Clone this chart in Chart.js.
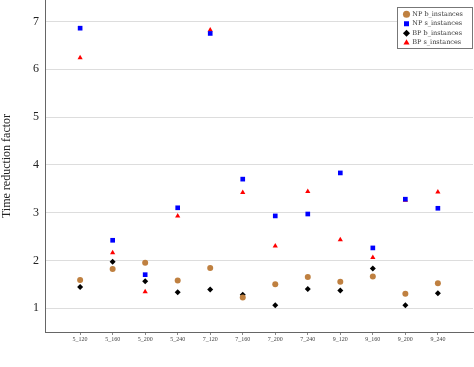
<!DOCTYPE html>
<html>
<head>
<meta charset="utf-8">
<script src="https://cdn.jsdelivr.net/npm/chart.js@4.4.0/dist/chart.umd.min.js"></script>
<style>
  html, body { margin: 0; padding: 0; background: #fff; }
  #wrap { width: 474px; height: 367px; }
</style>
</head>
<body>
<div id="wrap"><canvas id="c" width="474" height="367"></canvas></div>
<script>
const categories = ['5_120','5_160','5_200','5_240','7_120','7_160','7_200','7_240','9_120','9_160','9_200','9_240'];
const npB = [1.59, 1.82, 1.95, 1.58, 1.84, 1.22, 1.50, 1.65, 1.55, 1.66, 1.30, 1.52];
const npS = [6.86, 2.42, 1.70, 3.10, 6.75, 3.70, 2.93, 2.97, 3.83, 2.26, 3.28, 3.09];
const bpB = [1.44, 1.97, 1.56, 1.33, 1.39, 1.28, 1.06, 1.40, 1.37, 1.83, 1.06, 1.31];
const bpS = [6.24, 2.16, 1.34, 2.93, 6.82, 3.42, 2.30, 3.44, 2.43, 2.06, 3.26, 3.43];
const yTicks = [1, 2, 3, 4, 5, 6, 7];

const toPts = arr => arr.map((v, i) => ({x: i, y: v}));
const serif = '"Liberation Serif", "DejaVu Serif", serif';

const legendBox = {
  id: 'legendBox',
  afterLayout(chart) {
    const lg = chart.legend;
    const ca = chart.chartArea;
    const w = lg.width, h = lg.height;
    lg.left = ca.right - 72;
    lg.right = lg.left + w;
    lg.top = ca.top + 8;
    lg.bottom = lg.top + h;
  },
  afterDraw(chart) {
    const ctx = chart.ctx;
    const ca = chart.chartArea;
    ctx.save();
    ctx.fillStyle = '#fff';
    ctx.strokeStyle = '#777';
    ctx.lineWidth = 1;
    const x0 = ca.right - 76, y0 = ca.top + 7;
    ctx.fillRect(x0, y0, 76, 42);
    ctx.strokeRect(x0 + 0.5, y0 + 0.5, 75, 41);
    ctx.restore();
    chart.legend.draw();
  }
};

new Chart(document.getElementById('c'), {
  type: 'scatter',
  data: {
    datasets: [
      { label: 'NP b_instances', data: toPts(npB), pointStyle: 'circle', pointRadius: 3,
        backgroundColor: 'rgb(191,128,64)', borderColor: 'rgb(191,128,64)', borderWidth: 0 },
      { label: 'NP s_instances', data: toPts(npS), pointStyle: 'rect', pointRadius: 3.3,
        backgroundColor: '#0000ff', borderColor: '#0000ff', borderWidth: 0 },
      { label: 'BP b_instances', data: toPts(bpB), pointStyle: 'rectRot', pointRadius: 3,
        backgroundColor: '#000', borderColor: '#000', borderWidth: 0 },
      { label: 'BP s_instances', data: toPts(bpS), pointStyle: 'triangle', pointRadius: 3,
        backgroundColor: '#ff0000', borderColor: '#ff0000', borderWidth: 0 }
    ]
  },
  options: {
    responsive: false,
    animation: false,
    events: [],
    layout: { autoPadding: false, padding: { left: 0, right: 1, top: 0, bottom: 0 } },
    plugins: {
      tooltip: { enabled: false },
      legend: {
        position: 'chartArea',
        align: 'start',
        labels: {
          usePointStyle: true,
          boxWidth: 5, boxHeight: 5,
          padding: 3,
          color: '#333',
          font: { family: '"DejaVu Serif", serif', size: 6.5 }
        }
      }
    },
    scales: {
      x: {
        type: 'linear',
        min: -1.08,
        max: 12.08,
        afterBuildTicks(scale) { scale.ticks = categories.map((_, i) => ({ value: i })); },
        afterFit(scale) { scale.height = 35; scale.paddingLeft = 0; scale.paddingRight = 0; },
        grid: { drawOnChartArea: false, drawTicks: true, tickLength: 3, color: '#888' },
        border: { display: true, color: '#666', width: 1 },
        ticks: {
          autoSkip: false, maxRotation: 0, minRotation: 0, padding: 1,
          color: '#444',
          font: { family: serif, size: 6 },
          callback: v => categories[v] !== undefined ? categories[v] : ''
        }
      },
      y: {
        min: 0.5,
        max: 7.45,
        afterBuildTicks(scale) { scale.ticks = yTicks.map(v => ({ value: v })); },
        afterFit(scale) { scale.width = 45; scale.paddingTop = 0; scale.paddingBottom = 0; },
        grid: { color: '#dddddd', lineWidth: 1, drawTicks: false },
        border: { display: true, color: '#666', width: 1 },
        ticks: { color: '#222', padding: 6, font: { family: serif, size: 12 } },
        title: {
          display: true, text: 'Time reduction factor', color: '#222',
          padding: 0, font: { family: serif, size: 12 }
        }
      }
    }
  },
  plugins: [legendBox]
});
</script>
</body>
</html>
